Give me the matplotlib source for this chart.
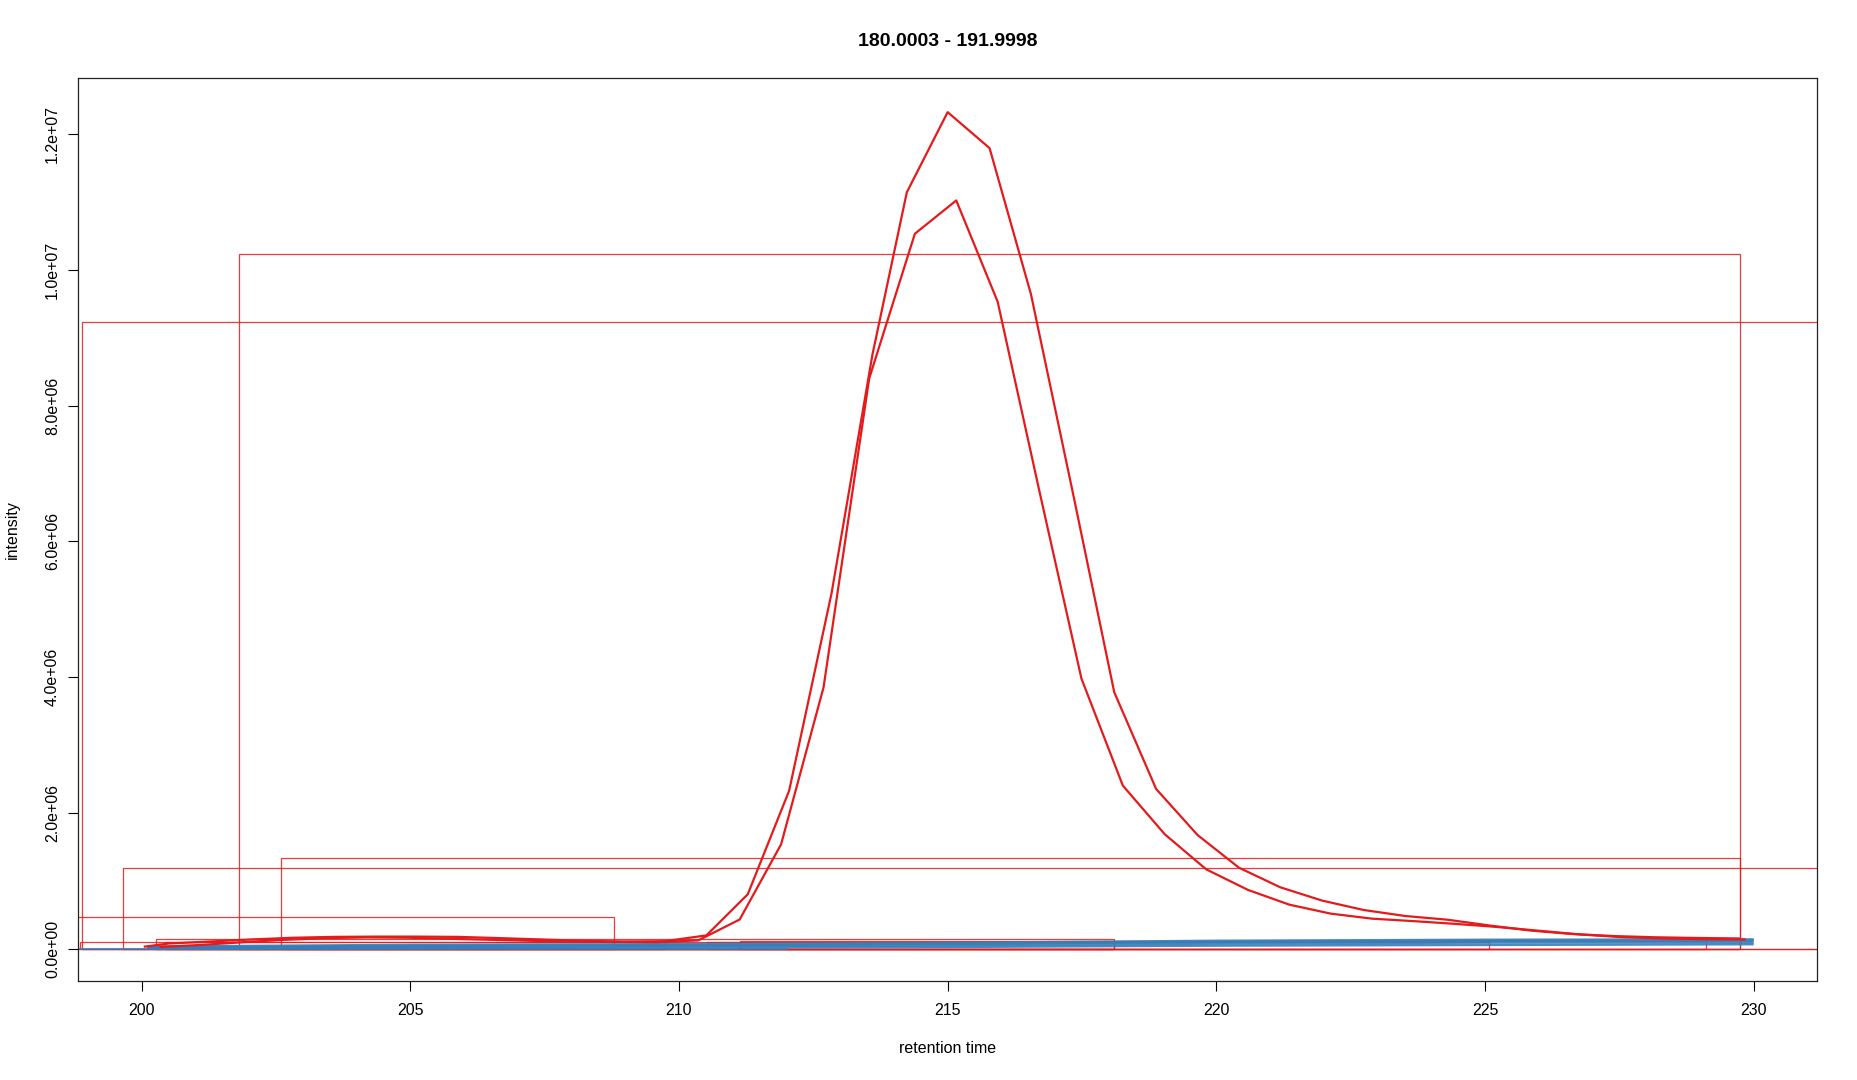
import matplotlib
matplotlib.use("Agg")
import matplotlib.pyplot as plt
from matplotlib.patches import Rectangle

plt.rcParams['font.family'] = ['Liberation Sans', 'DejaVu Sans']

title = "180.0003 - 191.9998"
xlabel = "retention time"
ylabel = "intensity"
xticks = [200, 205, 210, 215, 220, 225, 230]
yticks = [0, 2e6, 4e6, 6e6, 8e6, 1e7, 1.2e7]
ytick_labels = ["0.0e+00", "2.0e+06", "4.0e+06", "6.0e+06", "8.0e+06", "1.0e+07", "1.2e+07"]

# sample A (red, higher peak)
rt_a = [200.06, 200.50, 201.27, 202.04, 202.81, 203.58, 204.35, 205.12, 205.89, 206.66,
        207.43, 208.20, 208.97, 209.74, 210.51, 211.28, 212.05, 212.84, 213.60, 214.24,
        215.00, 215.78, 216.55, 217.35, 218.10, 218.88, 219.65, 220.42, 221.19, 221.97,
        222.74, 223.51, 224.31, 225.09, 225.86, 226.63, 227.40, 228.18, 228.95, 229.72]
int_a = [3.5e4, 8e4, 1.1e5, 1.4e5, 1.65e5, 1.78e5, 1.82e5, 1.82e5, 1.78e5, 1.6e5,
         1.4e5, 1.2e5, 1.1e5, 1.15e5, 2.0e5, 8.05e5, 2.33e6, 5.24e6, 8.75e6, 1.114e7,
         1.232e7, 1.179e7, 9.64e6, 6.64e6, 3.78e6, 2.355e6, 1.678e6, 1.197e6, 9.08e5, 7.12e5,
         5.74e5, 4.86e5, 4.3e5, 3.45e5, 2.7e5, 2.2e5, 1.9e5, 1.72e5, 1.62e5, 1.55e5]

# sample B (red, lower peak)
rt_b = [200.35, 201.12, 201.89, 202.66, 203.43, 204.20, 204.97, 205.74, 206.51, 207.28,
        208.05, 208.82, 209.59, 210.36, 211.13, 211.90, 212.69, 213.54, 214.39, 215.16,
        215.93, 216.71, 217.49, 218.26, 219.04, 219.81, 220.59, 221.36, 222.13, 222.90,
        223.67, 224.44, 225.21, 225.98, 226.75, 227.52, 228.29, 229.06, 229.83]
int_b = [3e4, 6e4, 1.0e5, 1.35e5, 1.6e5, 1.7e5, 1.65e5, 1.5e5, 1.35e5, 1.2e5,
         1.1e5, 1.05e5, 1.0e5, 1.27e5, 4.34e5, 1.54e6, 3.85e6, 8.4e6, 1.053e7, 1.102e7,
         9.53e6, 6.73e6, 3.98e6, 2.405e6, 1.689e6, 1.173e6, 8.69e5, 6.52e5, 5.2e5, 4.46e5,
         4.1e5, 3.7e5, 3.25e5, 2.7e5, 2.15e5, 1.75e5, 1.55e5, 1.45e5, 1.4e5]

# blue samples (near baseline)
rt_blue = [200.1, 205.0, 210.0, 215.0, 220.0, 225.0, 230.0]
int_blue1 = [3.5e4, 6e4, 7e4, 9e4, 1.2e5, 1.35e5, 1.4e5]
int_blue2 = [2.5e4, 4.5e4, 5.5e4, 7.5e4, 1.05e5, 1.2e5, 1.25e5]
int_blue3 = [1.5e4, 3e4, 4e4, 5.5e4, 8e4, 9.5e4, 1.0e5]
int_blue4 = [5e3, 1.5e4, 2e4, 3e4, 5e4, 6e4, 7e4]
rt_blue0 = [198.0, 212.0]
int_blue0 = [0, 0]

# detected peak rectangles: rtmin, rtmax, maxo
peak_rtmin = [198.89, 201.82, 199.65, 202.59, 198.0, 198.86, 200.26, 200.43, 210.52, 211.13]
peak_rtmax = [232.5, 229.74, 232.5, 229.74, 208.79, 209.74, 218.09, 218.09, 225.08, 229.12]
peak_maxo = [9.227e6, 1.0238e7, 1.186e6, 1.343e6, 4.71e5, 1.1e5, 1.43e5, 1.07e5, 9.8e4, 1.18e5]

RED = "#E41A1C"
BLUE = "#377EB8"

fig = plt.figure(figsize=(18.58, 10.80), dpi=100)
ax_rect = [0.0421, 0.0917, 0.9356, 0.8359]
ax = fig.add_axes(ax_rect)

for ys in [int_blue4, int_blue3, int_blue2, int_blue1]:
    ax.plot(rt_blue, ys, color=BLUE, lw=1.8, alpha=0.9, solid_capstyle='butt')
ax.plot(rt_blue0, int_blue0, color=BLUE, lw=1.5, alpha=0.8)

for x0, x1, h in zip(peak_rtmin, peak_rtmax, peak_maxo):
    ax.add_patch(Rectangle((x0, 0), x1 - x0, h, fill=False, edgecolor=RED, lw=0.9, alpha=0.85))

ax.plot(rt_a, int_a, color=RED, lw=1.6)
ax.plot(rt_b, int_b, color=RED, lw=1.6)

ax.set_xlim(198.82, 231.17)
ax.set_ylim(-4.71e5, 1.282e7)
ax.set_xticks(xticks)
ax.set_xticklabels([str(t) for t in xticks])
ax.set_yticks(yticks)
ax.set_yticklabels(ytick_labels, rotation=90, va='center')
ax.tick_params(axis='both', length=7.2, width=0.8, labelsize=11.5, color='black')
ax.tick_params(axis='x', pad=9)
ax.tick_params(axis='y', pad=6)
for s in ax.spines.values():
    s.set_linewidth(0.9)
    s.set_color('#222222')

ax.set_xlabel(xlabel, fontsize=11.5, labelpad=16)
ax.set_ylabel(ylabel, fontsize=11.5, labelpad=18)
fig.text(ax_rect[0] + ax_rect[2] / 2, 1 - 41 / 1080, title, ha='center', va='center',
         fontsize=14, fontweight='bold')

fig.savefig("out.png", dpi=100)
